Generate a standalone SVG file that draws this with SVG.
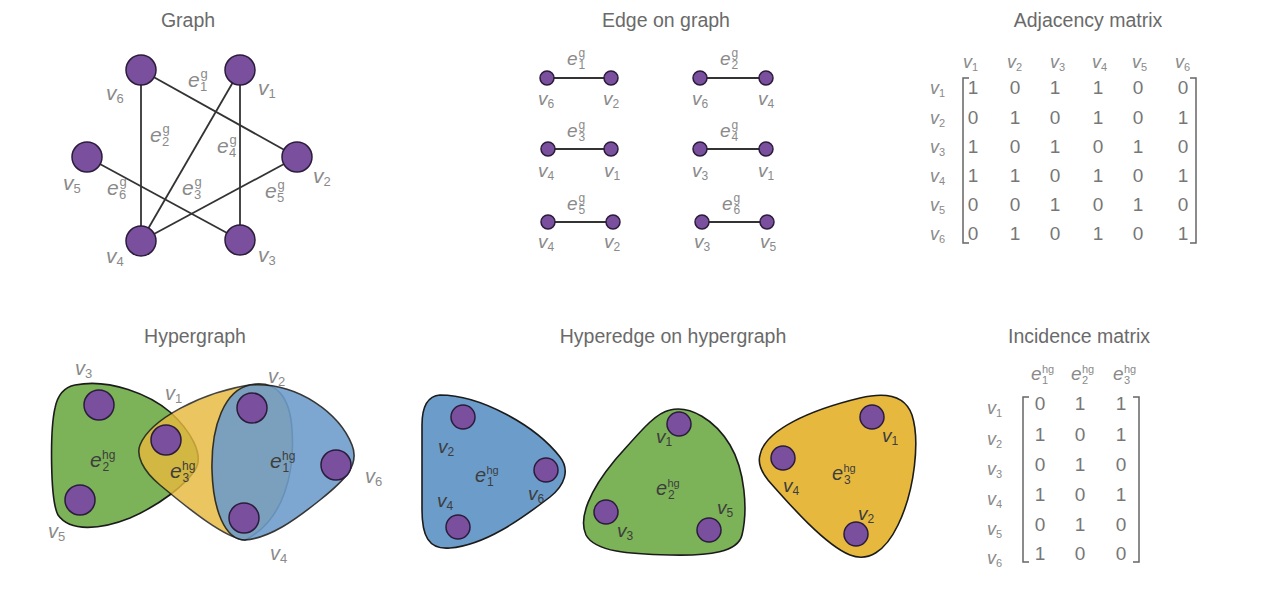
<svg xmlns="http://www.w3.org/2000/svg" width="1269" height="589" viewBox="0 0 1269 589">
<style>
text{font-family:"Liberation Sans",Arial,sans-serif}
.t{font-size:19.5px;fill:#6a6a6a;text-anchor:middle}
.l{font-style:italic;fill:#8a8a8a}
.s{font-style:normal}
.n{fill:#7a4f9e;stroke:#2b1c3b;stroke-width:1.5}
.e{stroke:#333;stroke-width:1.8;fill:none}
.m{font-size:19px;fill:#777;text-anchor:middle}
.br{fill:none;stroke:#666;stroke-width:1.5}
.d{fill:#3d3d3d}
.hs{stroke:#1b1b1b;stroke-width:1.6}
.bl{fill:#6c9cca}
.gr{fill:#7cb258}
.ye{fill:#e6b93e}
</style>
<rect width="1269" height="589" fill="#fff"/>

<g id="titles">
<text class="t" x="188" y="27">Graph</text>
<text class="t" x="666" y="27">Edge on graph</text>
<text class="t" x="1088" y="27">Adjacency matrix</text>
<text class="t" x="195" y="343">Hypergraph</text>
<text class="t" x="673" y="343">Hyperedge on hypergraph</text>
<text class="t" x="1079" y="343">Incidence matrix</text>
</g>

<!-- Graph -->
<g id="graph-edges">
<line class="e" x1="141" y1="70" x2="297" y2="157"/>
<line class="e" x1="141" y1="70" x2="141" y2="241"/>
<line class="e" x1="240" y1="70" x2="141" y2="241"/>
<line class="e" x1="240" y1="70" x2="240" y2="240"/>
<line class="e" x1="141" y1="241" x2="297" y2="157"/>
<line class="e" x1="87" y1="157" x2="240" y2="240"/>
</g>
<g id="graph-edge-labels" class="l" font-size="21">
<text x="188" y="87">e</text><text class="s" x="200.5" y="78" font-size="13">g</text><text class="s" x="200" y="90.5" font-size="13">1</text>
<text x="150" y="142">e</text><text class="s" x="162.5" y="133" font-size="13">g</text><text class="s" x="162" y="145.5" font-size="13">2</text>
<text x="182" y="195">e</text><text class="s" x="194.5" y="186" font-size="13">g</text><text class="s" x="194" y="198.5" font-size="13">3</text>
<text x="217" y="153">e</text><text class="s" x="229.5" y="144" font-size="13">g</text><text class="s" x="229" y="156.5" font-size="13">4</text>
<text x="265" y="198">e</text><text class="s" x="277.5" y="189" font-size="13">g</text><text class="s" x="277" y="201.5" font-size="13">5</text>
<text x="107" y="195">e</text><text class="s" x="119.5" y="186" font-size="13">g</text><text class="s" x="119" y="198.5" font-size="13">6</text>
</g>
<g id="g-v1"><circle class="n" cx="240" cy="70" r="15"/><text class="l" x="258" y="95" font-size="21">v<tspan class="s" font-size="13" dy="3">1</tspan></text></g>
<g id="g-v2"><circle class="n" cx="297" cy="157" r="15"/><text class="l" x="313" y="183" font-size="21">v<tspan class="s" font-size="13" dy="3">2</tspan></text></g>
<g id="g-v3"><circle class="n" cx="240" cy="240" r="15"/><text class="l" x="258" y="262" font-size="21">v<tspan class="s" font-size="13" dy="3">3</tspan></text></g>
<g id="g-v4"><circle class="n" cx="141" cy="241" r="15"/><text class="l" x="106" y="263" font-size="21">v<tspan class="s" font-size="13" dy="3">4</tspan></text></g>
<g id="g-v5"><circle class="n" cx="87" cy="157" r="15"/><text class="l" x="63" y="190" font-size="21">v<tspan class="s" font-size="13" dy="3">5</tspan></text></g>
<g id="g-v6"><circle class="n" cx="141" cy="70" r="15"/><text class="l" x="106" y="100" font-size="21">v<tspan class="s" font-size="13" dy="3">6</tspan></text></g>

<!-- Edge on graph -->
<g id="eog-connectors">
<line class="e" x1="547" y1="78" x2="611" y2="78" stroke-width="2.5"/>
<line class="e" x1="700" y1="78" x2="766" y2="78" stroke-width="1.4"/>
<line class="e" x1="548" y1="149" x2="611" y2="149" stroke-width="1.4"/>
<line class="e" x1="700" y1="149" x2="766" y2="149" stroke-width="1.4"/>
<line class="e" x1="548" y1="222" x2="613" y2="222" stroke-width="2.5"/>
<line class="e" x1="702" y1="222" x2="767" y2="222" stroke-width="2.5"/>
</g>
<g id="eog-labels" class="l" font-size="19">
<text x="567" y="65">e</text><text class="s" x="578.5" y="57" font-size="12">g</text><text class="s" x="578.5" y="69" font-size="12">1</text>
<text x="720" y="65">e</text><text class="s" x="731.5" y="57" font-size="12">g</text><text class="s" x="731.5" y="69" font-size="12">2</text>
<text x="567" y="137">e</text><text class="s" x="578.5" y="129" font-size="12">g</text><text class="s" x="578.5" y="141" font-size="12">3</text>
<text x="720" y="137">e</text><text class="s" x="731.5" y="129" font-size="12">g</text><text class="s" x="731.5" y="141" font-size="12">4</text>
<text x="567" y="210">e</text><text class="s" x="578.5" y="202" font-size="12">g</text><text class="s" x="578.5" y="214" font-size="12">5</text>
<text x="722" y="210">e</text><text class="s" x="733.5" y="202" font-size="12">g</text><text class="s" x="733.5" y="214" font-size="12">6</text>
</g>
<g id="eog-e1"><circle class="n" cx="547" cy="78" r="7"/><circle class="n" cx="611" cy="78" r="7"/>
<text class="l" x="538" y="105" font-size="19">v<tspan class="s" font-size="12" dy="3">6</tspan></text><text class="l" x="603" y="105" font-size="19">v<tspan class="s" font-size="12" dy="3">2</tspan></text></g>
<g id="eog-e2"><circle class="n" cx="700" cy="78" r="7"/><circle class="n" cx="766" cy="78" r="7"/>
<text class="l" x="692" y="105" font-size="19">v<tspan class="s" font-size="12" dy="3">6</tspan></text><text class="l" x="758" y="105" font-size="19">v<tspan class="s" font-size="12" dy="3">4</tspan></text></g>
<g id="eog-e3"><circle class="n" cx="548" cy="149" r="7"/><circle class="n" cx="611" cy="149" r="7"/>
<text class="l" x="538" y="177" font-size="19">v<tspan class="s" font-size="12" dy="3">4</tspan></text><text class="l" x="604" y="177" font-size="19">v<tspan class="s" font-size="12" dy="3">1</tspan></text></g>
<g id="eog-e4"><circle class="n" cx="700" cy="149" r="7"/><circle class="n" cx="766" cy="149" r="7"/>
<text class="l" x="692" y="177" font-size="19">v<tspan class="s" font-size="12" dy="3">3</tspan></text><text class="l" x="758" y="177" font-size="19">v<tspan class="s" font-size="12" dy="3">1</tspan></text></g>
<g id="eog-e5"><circle class="n" cx="548" cy="222" r="7"/><circle class="n" cx="613" cy="222" r="7"/>
<text class="l" x="538" y="248" font-size="19">v<tspan class="s" font-size="12" dy="3">4</tspan></text><text class="l" x="604" y="248" font-size="19">v<tspan class="s" font-size="12" dy="3">2</tspan></text></g>
<g id="eog-e6"><circle class="n" cx="702" cy="222" r="7"/><circle class="n" cx="767" cy="222" r="7"/>
<text class="l" x="694" y="248" font-size="19">v<tspan class="s" font-size="12" dy="3">3</tspan></text><text class="l" x="760" y="248" font-size="19">v<tspan class="s" font-size="12" dy="3">5</tspan></text></g>

<!-- Adjacency matrix -->
<g id="adjacency">
<g class="l" font-size="18">
<text x="963" y="68">v<tspan class="s" font-size="11" dy="3">1</tspan></text>
<text x="1007" y="68">v<tspan class="s" font-size="11" dy="3">2</tspan></text>
<text x="1050" y="68">v<tspan class="s" font-size="11" dy="3">3</tspan></text>
<text x="1092" y="68">v<tspan class="s" font-size="11" dy="3">4</tspan></text>
<text x="1132" y="68">v<tspan class="s" font-size="11" dy="3">5</tspan></text>
<text x="1175" y="68">v<tspan class="s" font-size="11" dy="3">6</tspan></text>
<text x="930" y="94">v<tspan class="s" font-size="11" dy="3">1</tspan></text>
<text x="930" y="124">v<tspan class="s" font-size="11" dy="3">2</tspan></text>
<text x="930" y="153">v<tspan class="s" font-size="11" dy="3">3</tspan></text>
<text x="930" y="182">v<tspan class="s" font-size="11" dy="3">4</tspan></text>
<text x="930" y="211">v<tspan class="s" font-size="11" dy="3">5</tspan></text>
<text x="930" y="240">v<tspan class="s" font-size="11" dy="3">6</tspan></text>
</g>
<path class="br" d="M969,78 H963 V243 H969"/>
<path class="br" d="M1190,78 H1196 V243 H1190"/>
<g class="m">
<text x="973" y="94">1</text><text x="1015" y="94">0</text><text x="1055" y="94">1</text><text x="1098" y="94">1</text><text x="1138" y="94">0</text><text x="1183" y="94">0</text>
<text x="973" y="124">0</text><text x="1015" y="124">1</text><text x="1055" y="124">0</text><text x="1098" y="124">1</text><text x="1138" y="124">0</text><text x="1183" y="124">1</text>
<text x="973" y="153">1</text><text x="1015" y="153">0</text><text x="1055" y="153">1</text><text x="1098" y="153">0</text><text x="1138" y="153">1</text><text x="1183" y="153">0</text>
<text x="973" y="182">1</text><text x="1015" y="182">1</text><text x="1055" y="182">0</text><text x="1098" y="182">1</text><text x="1138" y="182">0</text><text x="1183" y="182">1</text>
<text x="973" y="211">0</text><text x="1015" y="211">0</text><text x="1055" y="211">1</text><text x="1098" y="211">0</text><text x="1138" y="211">1</text><text x="1183" y="211">0</text>
<text x="973" y="240">0</text><text x="1015" y="240">1</text><text x="1055" y="240">0</text><text x="1098" y="240">1</text><text x="1138" y="240">0</text><text x="1183" y="240">1</text>
</g>
</g>

<!-- Hypergraph -->
<g id="hypergraph">
<g id="hg-e2"><path class="gr hs" d="M75,385 C110,378 150,395 170,412 C190,430 205,455 195,470 C185,485 160,505 130,518 C100,530 70,532 58,515 C50,500 50,430 55,408 C58,393 65,387 75,385 Z"/></g>
<g id="hg-e3" opacity="0.82"><path class="ye hs" d="M140,445 C150,420 200,392 255,384 C275,382 290,395 292,430 C295,470 285,520 245,540 C225,538 190,510 160,485 C142,470 136,455 140,445 Z"/></g>
<g id="hg-e1" opacity="0.88"><path class="bl hs" d="M250,385 C300,382 340,415 352,445 C360,465 345,480 320,500 C295,520 270,538 245,540 C225,540 213,510 212,470 C211,425 225,390 250,385 Z"/></g>
<g id="hg-v3"><circle class="n" cx="99" cy="405" r="15"/><text class="l" x="75" y="375" font-size="20">v<tspan class="s" font-size="13" dy="3">3</tspan></text></g>
<g id="hg-v1"><circle class="n" cx="166" cy="440" r="15"/><text class="l" x="165" y="400" font-size="20">v<tspan class="s" font-size="13" dy="3">1</tspan></text></g>
<g id="hg-v5"><circle class="n" cx="80" cy="500" r="15"/><text class="l" x="48" y="538" font-size="20">v<tspan class="s" font-size="13" dy="3">5</tspan></text></g>
<g id="hg-v2"><circle class="n" cx="252" cy="408" r="15"/><text class="l" x="268" y="383" font-size="20">v<tspan class="s" font-size="13" dy="3">2</tspan></text></g>
<g id="hg-v6"><circle class="n" cx="336" cy="465" r="15"/><text class="l" x="365" y="483" font-size="20">v<tspan class="s" font-size="13" dy="3">6</tspan></text></g>
<g id="hg-v4"><circle class="n" cx="244" cy="518" r="15"/><text class="l" x="270" y="560" font-size="20">v<tspan class="s" font-size="13" dy="3">4</tspan></text></g>
<g class="l d" font-size="21">
<text x="90" y="467">e</text><text class="s" x="102" y="459" font-size="12">hg</text><text class="s" x="102.5" y="471" font-size="12">2</text>
<text x="170" y="478">e</text><text class="s" x="182" y="470" font-size="12">hg</text><text class="s" x="182.5" y="482" font-size="12">3</text>
<text x="270" y="468">e</text><text class="s" x="282" y="460" font-size="12">hg</text><text class="s" x="282.5" y="472" font-size="12">1</text>
</g>
</g>

<!-- Hyperedge on hypergraph -->
<g id="he-e1">
<path class="bl hs" d="M440,395 C480,395 535,425 560,457 C570,470 565,485 550,497 C520,520 485,545 450,548 C428,550 422,535 422,510 L422,425 C422,405 428,396 440,395 Z"/>
<circle class="n" cx="463" cy="417" r="12"/><circle class="n" cx="546" cy="470" r="12"/><circle class="n" cx="458" cy="527" r="12"/>
<g class="l d" font-size="19">
<text x="438" y="453">v<tspan class="s" font-size="12" dy="3">2</tspan></text>
<text x="528" y="500">v<tspan class="s" font-size="12" dy="3">6</tspan></text>
<text x="437" y="507">v<tspan class="s" font-size="12" dy="3">4</tspan></text>
<text x="475" y="482" font-size="20">e</text><text class="s" x="486.5" y="474" font-size="11">hg</text><text class="s" x="487" y="486" font-size="12">1</text>
</g>
</g>
<g id="he-e2">
<path class="gr hs" d="M670,410 C690,405 715,420 730,445 C745,470 748,510 742,535 C738,552 710,556 670,555 C630,554 595,552 586,535 C578,518 590,490 615,460 C640,432 655,413 670,410 Z"/>
<circle class="n" cx="679" cy="424" r="12"/><circle class="n" cx="606" cy="512" r="12"/><circle class="n" cx="709" cy="530" r="12"/>
<g class="l d" font-size="19">
<text x="656" y="443">v<tspan class="s" font-size="12" dy="3">1</tspan></text>
<text x="617" y="537">v<tspan class="s" font-size="12" dy="3">3</tspan></text>
<text x="717" y="514">v<tspan class="s" font-size="12" dy="3">5</tspan></text>
<text x="656" y="495" font-size="20">e</text><text class="s" x="667.5" y="487" font-size="11">hg</text><text class="s" x="668" y="499" font-size="12">2</text>
</g>
</g>
<g id="he-e3">
<path class="ye hs" d="M760,455 C765,430 810,410 860,398 C885,392 905,395 912,415 C920,440 915,490 898,525 C885,552 868,562 850,555 C825,545 790,505 768,480 C760,470 758,462 760,455 Z"/>
<circle class="n" cx="872" cy="417" r="12"/><circle class="n" cx="783" cy="458" r="12"/><circle class="n" cx="856" cy="534" r="12"/>
<g class="l d" font-size="19">
<text x="882" y="442">v<tspan class="s" font-size="12" dy="3">1</tspan></text>
<text x="783" y="492">v<tspan class="s" font-size="12" dy="3">4</tspan></text>
<text x="858" y="520">v<tspan class="s" font-size="12" dy="3">2</tspan></text>
<text x="832" y="480" font-size="20">e</text><text class="s" x="843.5" y="472" font-size="11">hg</text><text class="s" x="844" y="484" font-size="12">3</text>
</g>
</g>

<!-- Incidence matrix -->
<g id="incidence">
<g class="l" font-size="19">
<text x="1031" y="380">e</text><text class="s" x="1042" y="373" font-size="11">hg</text><text class="s" x="1042" y="384" font-size="11">1</text>
<text x="1071" y="380">e</text><text class="s" x="1082" y="373" font-size="11">hg</text><text class="s" x="1082" y="384" font-size="11">2</text>
<text x="1113" y="380">e</text><text class="s" x="1124" y="373" font-size="11">hg</text><text class="s" x="1124" y="384" font-size="11">3</text>
</g>
<g class="l" font-size="18">
<text x="987" y="414">v<tspan class="s" font-size="11" dy="3">1</tspan></text>
<text x="987" y="445">v<tspan class="s" font-size="11" dy="3">2</tspan></text>
<text x="987" y="475">v<tspan class="s" font-size="11" dy="3">3</tspan></text>
<text x="987" y="505">v<tspan class="s" font-size="11" dy="3">4</tspan></text>
<text x="987" y="535">v<tspan class="s" font-size="11" dy="3">5</tspan></text>
<text x="987" y="564">v<tspan class="s" font-size="11" dy="3">6</tspan></text>
</g>
<path class="br" d="M1029,397 H1023 V562 H1029"/>
<path class="br" d="M1133,397 H1139 V562 H1133"/>
<g class="m">
<text x="1040" y="410">0</text><text x="1080" y="410">1</text><text x="1121" y="410">1</text>
<text x="1040" y="441">1</text><text x="1080" y="441">0</text><text x="1121" y="441">1</text>
<text x="1040" y="471">0</text><text x="1080" y="471">1</text><text x="1121" y="471">0</text>
<text x="1040" y="501">1</text><text x="1080" y="501">0</text><text x="1121" y="501">1</text>
<text x="1040" y="531">0</text><text x="1080" y="531">1</text><text x="1121" y="531">0</text>
<text x="1040" y="560">1</text><text x="1080" y="560">0</text><text x="1121" y="560">0</text>
</g>
</g>
</svg>
